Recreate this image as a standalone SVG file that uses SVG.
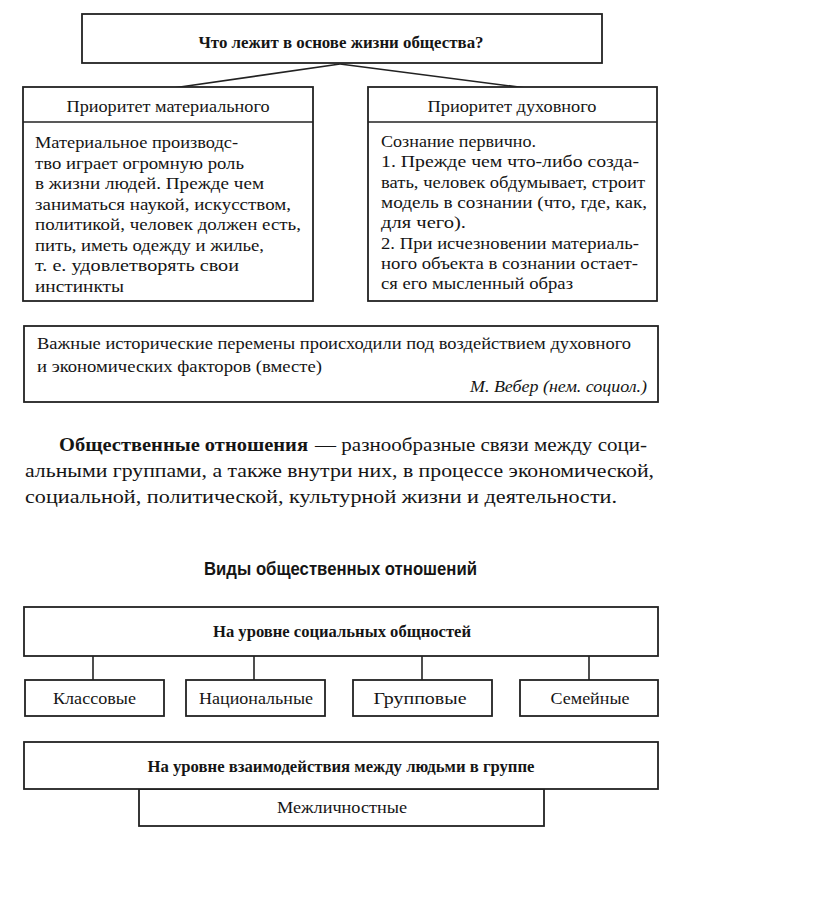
<svg xmlns="http://www.w3.org/2000/svg" width="816" height="898" viewBox="0 0 816 898">
<style>
.box{fill:#fff;stroke:#222;stroke-width:1.8}
.ln{fill:none;stroke:#222;stroke-width:1.6}
.t{font-family:"Liberation Serif","Times New Roman",serif;font-size:16px;fill:#151515}
.c{text-anchor:middle}
.b{font-weight:bold}
.i{font-style:italic}
.p{font-size:19px}
.lab{font-size:17px}
.h{font-family:"Liberation Sans",Arial,sans-serif;font-weight:bold;font-size:18px;fill:#151515}
</style>
<rect width="816" height="898" fill="#fff"/>
<g id="connectors">
<line class="ln" x1="340" y1="64" x2="173" y2="88"/>
<line class="ln" x1="340" y1="64" x2="526" y2="88"/>
<line class="ln" x1="93" y1="656" x2="93" y2="680"/>
<line class="ln" x1="254" y1="656" x2="254" y2="680"/>
<line class="ln" x1="422" y1="656" x2="422" y2="680"/>
<line class="ln" x1="589" y1="656" x2="589" y2="680"/>
</g>
<g id="question">
<rect class="box" x="82" y="14" width="520" height="49"/>
<text class="t b c" x="341" y="48" font-size="15" textLength="285" lengthAdjust="spacingAndGlyphs">Что лежит в основе жизни общества?</text>
</g>
<g id="material">
<rect class="box" x="23" y="87" width="290" height="214"/>
<line class="ln" x1="23" y1="122" x2="313" y2="122"/>
<text class="t c" x="168" y="112" textLength="203" lengthAdjust="spacingAndGlyphs">Приоритет материального</text>
<text class="t" x="35" y="148" textLength="203" lengthAdjust="spacingAndGlyphs">Материальное производс-</text>
<text class="t" x="35" y="169" textLength="209" lengthAdjust="spacingAndGlyphs">тво играет огромную роль</text>
<text class="t" x="35" y="189" textLength="229" lengthAdjust="spacingAndGlyphs">в жизни людей. Прежде чем</text>
<text class="t" x="35" y="210" textLength="256" lengthAdjust="spacingAndGlyphs">заниматься наукой, искусством,</text>
<text class="t" x="35" y="230" textLength="266" lengthAdjust="spacingAndGlyphs">политикой, человек должен есть,</text>
<text class="t" x="35" y="251" textLength="229" lengthAdjust="spacingAndGlyphs">пить, иметь одежду и жилье,</text>
<text class="t" x="35" y="271" textLength="204" lengthAdjust="spacingAndGlyphs">т. е. удовлетворять свои</text>
<text class="t" x="35" y="292" textLength="89" lengthAdjust="spacingAndGlyphs">инстинкты</text>
</g>
<g id="spiritual">
<rect class="box" x="368" y="87" width="289" height="214"/>
<line class="ln" x1="368" y1="122" x2="657" y2="122"/>
<text class="t c" x="512" y="112" textLength="169" lengthAdjust="spacingAndGlyphs">Приоритет духовного</text>
<text class="t" x="381" y="147" textLength="155" lengthAdjust="spacingAndGlyphs">Сознание первично.</text>
<text class="t" x="381" y="167" textLength="258" lengthAdjust="spacingAndGlyphs">1. Прежде чем что-либо созда-</text>
<text class="t" x="381" y="188" textLength="264" lengthAdjust="spacingAndGlyphs">вать, человек обдумывает, строит</text>
<text class="t" x="381" y="208" textLength="266" lengthAdjust="spacingAndGlyphs">модель в сознании (что, где, как,</text>
<text class="t" x="381" y="228" textLength="85" lengthAdjust="spacingAndGlyphs">для чего).</text>
<text class="t" x="381" y="249" textLength="258" lengthAdjust="spacingAndGlyphs">2. При исчезновении материаль-</text>
<text class="t" x="381" y="269" textLength="257" lengthAdjust="spacingAndGlyphs">ного объекта в сознании остает-</text>
<text class="t" x="381" y="289" textLength="192" lengthAdjust="spacingAndGlyphs">ся его мысленный образ</text>
</g>
<g id="quote">
<rect class="box" x="24" y="326" width="634" height="76"/>
<text class="t" x="37" y="349" textLength="594" lengthAdjust="spacingAndGlyphs">Важные исторические перемены происходили под воздействием духовного</text>
<text class="t" x="37" y="372" textLength="285" lengthAdjust="spacingAndGlyphs">и экономических факторов (вместе)</text>
<text class="t i" x="647" y="392" text-anchor="end" textLength="177" lengthAdjust="spacingAndGlyphs">М. Вебер (нем. социол.)</text>
</g>
<g id="definition">
<text class="t p b" x="59" y="451" textLength="249" lengthAdjust="spacingAndGlyphs">Общественные отношения</text>
<text class="t p" x="315" y="451" textLength="332" lengthAdjust="spacingAndGlyphs">— разнообразные связи между соци-</text>
<text class="t p" x="25" y="477" textLength="629" lengthAdjust="spacingAndGlyphs">альными группами, а также внутри них, в процессе экономической,</text>
<text class="t p" x="25" y="503" textLength="592" lengthAdjust="spacingAndGlyphs">социальной, политической, культурной жизни и деятельности.</text>
</g>
<g id="title">
<text class="h" x="204" y="575" textLength="273" lengthAdjust="spacingAndGlyphs">Виды общественных отношений</text>
</g>
<g id="level-communities">
<rect class="box" x="24" y="607" width="634" height="49"/>
<text class="t b c" x="342" y="637" textLength="258" lengthAdjust="spacingAndGlyphs">На уровне социальных общностей</text>
</g>
<g id="class">
<rect class="box" x="25" y="680" width="139" height="36"/>
<text class="t lab c" x="94.5" y="704" textLength="83" lengthAdjust="spacingAndGlyphs">Классовые</text>
</g>
<g id="national">
<rect class="box" x="186" y="680" width="139" height="36"/>
<text class="t lab c" x="256" y="704" textLength="114" lengthAdjust="spacingAndGlyphs">Национальные</text>
</g>
<g id="group">
<rect class="box" x="353" y="680" width="139" height="36"/>
<text class="t lab c" x="420" y="704" textLength="93" lengthAdjust="spacingAndGlyphs">Групповые</text>
</g>
<g id="family">
<rect class="box" x="520" y="680" width="138" height="36"/>
<text class="t lab c" x="590" y="704" textLength="79" lengthAdjust="spacingAndGlyphs">Семейные</text>
</g>
<g id="interpersonal">
<rect class="box" x="139" y="789" width="405" height="37"/>
<text class="t lab c" x="342" y="813" textLength="130" lengthAdjust="spacingAndGlyphs">Межличностные</text>
</g>
<g id="level-interaction">
<rect class="box" x="24" y="742" width="634" height="47"/>
<text class="t b c" x="341" y="772" textLength="387" lengthAdjust="spacingAndGlyphs">На уровне взаимодействия между людьми в группе</text>
</g>
</svg>
